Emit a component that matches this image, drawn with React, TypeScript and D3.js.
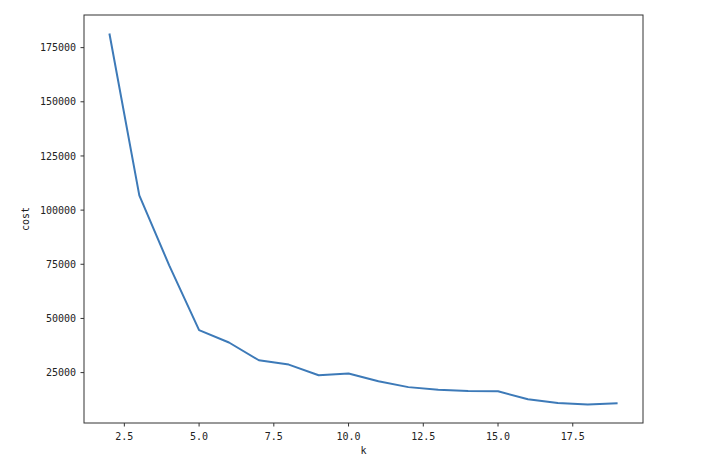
import React from "react";
import * as d3 from "d3";

const ks = [2, 3, 4, 5, 6, 7, 8, 9, 10, 11, 12, 13, 14, 15, 16, 17, 18, 19];
const costs = [181500, 106800, 74500, 44600, 38900, 30700, 28700, 23800, 24600, 21000, 18300, 17100, 16500, 16400, 12700, 11000, 10300, 10900];
const xTicks = [2.5, 5.0, 7.5, 10.0, 12.5, 15.0, 17.5];
const yTicks = [25000, 50000, 75000, 100000, 125000, 150000, 175000];

const W = 720, H = 465;
const L = 84, R = 643, T = 15, B = 423;
const FONT = "'DejaVu Sans Mono', monospace";

export default function App() {
  const xMin = d3.min(ks)!, xMax = d3.max(ks)!;
  const yMin = d3.min(costs)!, yMax = d3.max(costs)!;
  const xp = (xMax - xMin) * 0.05, yp = (yMax - yMin) * 0.05;
  const x = d3.scaleLinear().domain([xMin - xp, xMax + xp]).range([L, R]);
  const y = d3.scaleLinear().domain([yMin - yp, yMax + yp]).range([B, T]);
  const line = d3.line<number>().x((_, i) => x(ks[i])).y((d) => y(d));
  return (
    <svg width={W} height={H} style={{ position: "absolute", left: 0, top: 0, background: "#fff" }}>
      <path d={line(costs)!} fill="none" stroke="#3d7ab8" strokeWidth={2} strokeLinejoin="round" />
      <rect x={L} y={T} width={R - L} height={B - T} fill="none" stroke="#333" strokeWidth={1} />
      {xTicks.map((t) => (
        <g key={t}>
          <line x1={x(t)} x2={x(t)} y1={B} y2={B + 3.5} stroke="#333" />
          <text x={x(t)} y={440} textAnchor="middle" fontFamily={FONT} fontSize={10} fill="#222">
            {t.toFixed(1)}
          </text>
        </g>
      ))}
      {yTicks.map((t) => (
        <g key={t}>
          <line x1={L - 3.5} x2={L} y1={y(t)} y2={y(t)} stroke="#333" />
          <text x={76} y={y(t) + 3.7} textAnchor="end" fontFamily={FONT} fontSize={10} fill="#222">
            {t}
          </text>
        </g>
      ))}
      <text x={(L + R) / 2} y={454} textAnchor="middle" fontFamily={FONT} fontSize={10} fill="#222">k</text>
      <text transform={`translate(29,${(T + B) / 2}) rotate(-90)`} textAnchor="middle" fontFamily={FONT} fontSize={10} fill="#222">cost</text>
    </svg>
  );
}
